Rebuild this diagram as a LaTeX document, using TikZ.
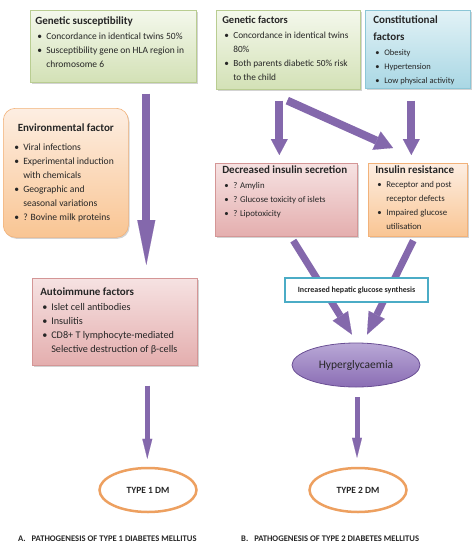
\documentclass[tikz,border=0pt]{standalone}
\usepackage{fontspec}
\setmainfont{Carlito}
\usetikzlibrary{arrows.meta,shapes.geometric,shadows,backgrounds}
\definecolor{arrcol}{HTML}{8468AC}
\definecolor{txt}{HTML}{262626}
\definecolor{grnA}{HTML}{F4F8EC}
\definecolor{grnB}{HTML}{D3E1B6}
\definecolor{grnD}{HTML}{B9CD91}
\definecolor{bluA}{HTML}{E2F2F6}
\definecolor{bluB}{HTML}{A9D7E4}
\definecolor{bluD}{HTML}{8CC6D6}
\definecolor{orgA}{HTML}{FDEEE2}
\definecolor{orgB}{HTML}{F9C593}
\definecolor{orgD}{HTML}{F2B27A}
\definecolor{pnkA}{HTML}{F6E2E2}
\definecolor{pnkB}{HTML}{E4AEAE}
\definecolor{pnkD}{HTML}{D49696}
\definecolor{tealc}{HTML}{4BACC6}
\definecolor{ringc}{HTML}{EDA060}
\definecolor{hypA}{HTML}{B9A8D6}
\definecolor{hypB}{HTML}{8A6DB4}
\definecolor{hypD}{HTML}{6A4F94}

\newlength{\bo}\setlength{\bo}{2pt}
\newlength{\bi}\setlength{\bi}{11pt}
\newcommand{\titlefont}{\fontsize{11}{17}\selectfont\bfseries}
\newcommand{\bl}[1]{\par\hangindent=\bi\hangafter=1\noindent\makebox[\bi][l]{\hspace{\bo}\textbullet}#1}
\newcommand{\ttl}[2]{\noindent\rule{0pt}{#2}{\titlefont #1\par}}
\newcommand{\bxc}[4]{\parbox[c][#2][t]{#1}{\raggedright\fontsize{#3}{14}\selectfont\color{txt}#4}}

\begin{document}
\begin{tikzpicture}[x=1pt,y=-1pt,
  boxbase/.style={inner xsep=7pt, inner ysep=0pt, anchor=north west, line width=0.6pt,
    drop shadow={shadow xshift=1.2pt,shadow yshift=-1.5pt,opacity=0.35}},
  grn/.style={boxbase, draw=grnD, top color=grnA, bottom color=grnB},
  blu/.style={boxbase, draw=bluD, top color=bluA, bottom color=bluB},
  org/.style={boxbase, draw=orgD, top color=orgA, bottom color=orgB},
  pnk/.style={boxbase, draw=pnkD, top color=pnkA, bottom color=pnkB},
  fatarr/.style={draw=arrcol, line width=8pt, -{Triangle[width=18pt,length=18pt,line width=0.1pt]}},
  thinarr/.style={draw=arrcol, line width=5pt, -{Triangle[width=10pt,length=20pt,line width=0.1pt]}},
  ringnode/.style={ellipse, draw=ringc, line width=2.5pt, fill=white, minimum width=97pt, minimum height=44pt, inner sep=0pt, font=\fontsize{9.5}{11}\selectfont\bfseries, text=txt},
  captxt/.style={anchor=west, inner sep=0pt, font=\fontsize{8.6}{10}\selectfont\bfseries, text=txt}
]
\useasboundingbox (0,0) rectangle (474,552);

\node[grn, inner xsep=5pt] (gs) at (30,10) {\bxc{156pt}{72pt}{9.5}{\ttl{Genetic susceptibility}{14pt}\vspace{1pt}%
  \bl{Concordance in identical twins 50\%}\bl{Susceptibility gene on HLA region in\newline chromosome 6}}};

\node[grn, inner xsep=6pt] (gf) at (216,10) {\bxc{132pt}{79pt}{9.3}{{\fontsize{10.5}{14}\selectfont\bfseries\noindent\rule{0pt}{13pt}Genetic factors\par}\vspace{1pt}%
  \bl{Concordance in identical twins\newline 80\%}\bl{Both parents diabetic 50\% risk\newline to the child}}};

\node[blu, inner xsep=8pt] (cf) at (365,10) {\bxc{89pt}{78pt}{8.5}{\ttl{Constitutional\\factors}{13pt}\vspace{1pt}%
  \bl{Obesity}\bl{Hypertension}\bl{Low physical activity}}};

\node[org, inner xsep=9pt, rounded corners=12pt] (env) at (3,108) {\bxc{107pt}{129pt}{9.6}{{\centering\rule{0pt}{23pt}{\titlefont Environmental factor}\par}\vspace{5pt}%
  \bl{Viral infections}\bl{Experimental induction\newline with chemicals}\bl{Geographic and\newline seasonal variations}\bl{? Bovine milk proteins}}};

\node[pnk, inner xsep=8pt] (auto) at (32,278) {\bxc{149pt}{87pt}{10.2}{\ttl{Autoimmune factors}{17pt}\vspace{1pt}%
  \bl{Islet cell antibodies}\bl{Insulitis}\bl{CD8+ T lymphocyte-mediated\newline Selective destruction of β-cells}}};

\node[pnk] (dis) at (215,163) {\bxc{128pt}{73pt}{8.8}{\ttl{Decreased insulin secretion}{10pt}\vspace{1pt}%
  \bl{? Amylin}\bl{? Glucose toxicity of islets}\bl{? Lipotoxicity}}};

\node[org] (ir) at (368,163) {\bxc{85pt}{73pt}{8.8}{\ttl{Insulin resistance}{10pt}\vspace{0pt}%
  \bl{Receptor and post\newline receptor defects}\bl{Impaired glucose\newline utilisation}}};

\node[draw=tealc, line width=2pt, fill=white, minimum width=143pt, minimum height=24pt, inner sep=0pt,
  font=\fontsize{8}{9}\selectfont\bfseries, text=txt] (hep) at (356.5,290) {Increased hepatic glucose synthesis};

\node[ellipse, draw=hypD, line width=0.8pt, top color=hypA, bottom color=hypB, minimum width=128pt, minimum height=44pt,
  inner sep=0pt, font=\fontsize{11.5}{13}\selectfont, text=txt] (hyp) at (356,365) {Hyperglycaemia};

\node[ringnode] (t1) at (148,490) {TYPE 1 DM};
\node[ringnode] (t2) at (358,490) {TYPE 2 DM};

\node[captxt] (capA) at (18,539) {A.\hspace{4pt} PATHOGENESIS OF TYPE 1 DIABETES MELLITUS};
\node[captxt] (capB) at (241,539) {B.\hspace{4pt} PATHOGENESIS OF TYPE 2 DIABETES MELLITUS};

\begin{pgfonlayer}{background}
\draw[fatarr, -{Triangle[width=18pt,length=45pt,line width=0.1pt]}, shorten <=11pt, shorten >=13pt]
  ([xshift=33pt]gs.south) -- ([xshift=33pt]gs.south |- auto.north);
\draw[fatarr, -{Triangle[width=17pt,length=16pt,line width=0.1pt]}, shorten <=11pt, shorten >=8pt]
  ([xshift=-9pt]gf.south) -- ([xshift=-9pt]gf.south |- dis.north);
\draw[fatarr, -{Triangle[width=20pt,length=18pt,line width=0.1pt]}]
  ([xshift=-1pt,yshift=-11pt]gf.south) -- ([xshift=25pt,yshift=15pt]ir.north west);
\draw[fatarr, -{Triangle[width=17pt,length=16pt,line width=0.1pt]}, shorten <=12pt, shorten >=8pt]
  ([xshift=-6.5pt]cf.south) -- ([xshift=-6.5pt]cf.south |- ir.north);
\draw[fatarr, line width=7pt, -{Triangle[width=18pt,length=22pt,line width=0.1pt]}]
  ([xshift=7pt,yshift=-4pt]dis.south) -- ([xshift=-4pt,yshift=8pt]hyp.north);
\draw[fatarr, line width=7pt, -{Triangle[width=18pt,length=22pt,line width=0.1pt]}]
  ([xshift=-4.5pt,yshift=-4pt]ir.south) -- ([xshift=11pt,yshift=8pt]hyp.north);
\draw[thinarr, shorten <=20pt, shorten >=8pt]
  ([xshift=32.5pt]auto.south) -- ([xshift=32.5pt]auto.south |- t1.north);
\draw[thinarr, shorten <=10pt, shorten >=9pt]
  ([xshift=1pt]hyp.south) -- ([xshift=1pt]hyp.south |- t2.north);
\end{pgfonlayer}
\end{tikzpicture}
\end{document}
